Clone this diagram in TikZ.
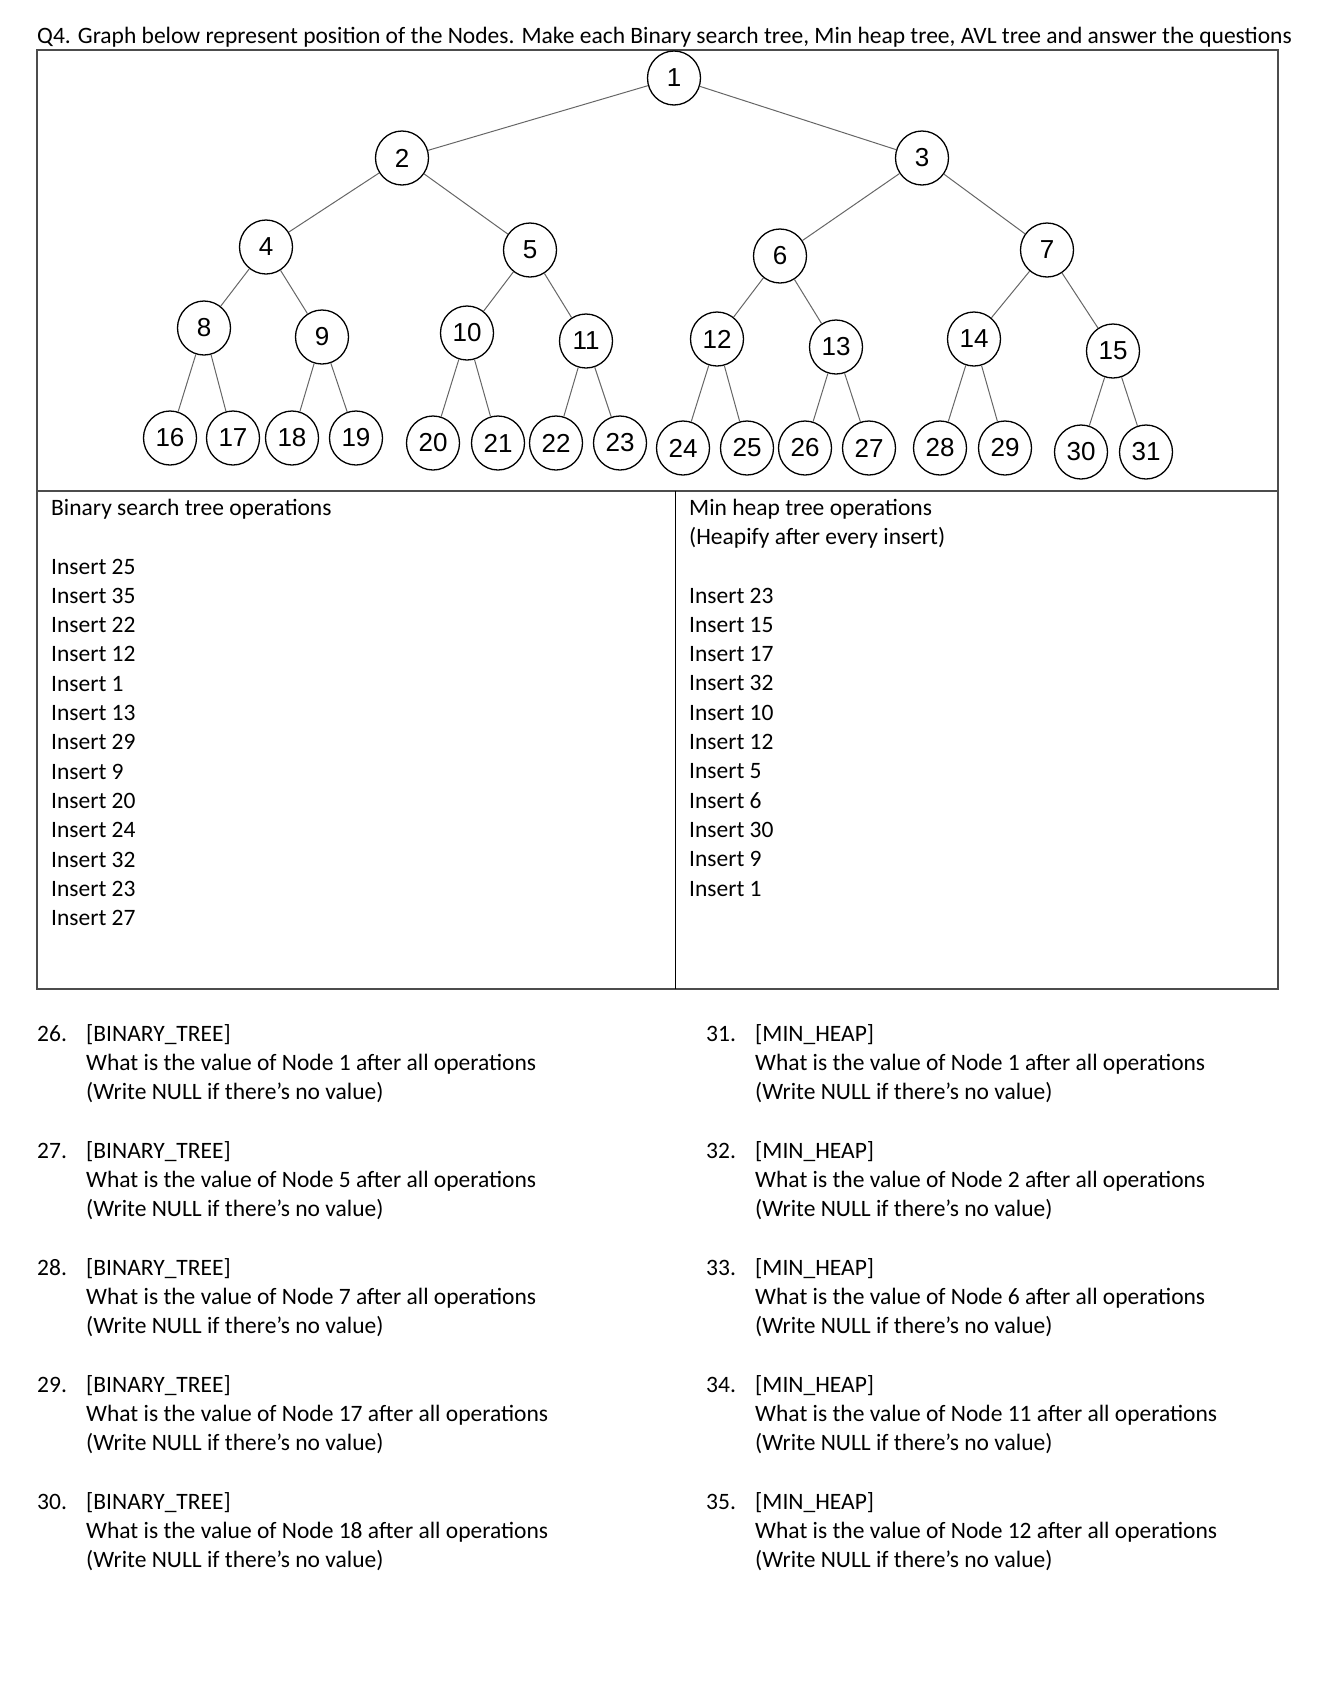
\documentclass[tikz,border=0pt]{standalone}
\usepackage{fontspec}
\setmainfont{Carlito}
\newfontfamily\arialfont{Liberation Sans}
\usetikzlibrary{shapes.geometric}
\newcommand{\txtrows}[1]{\begin{tabular}[t]{@{}l@{}}#1\end{tabular}}

\begin{document}
\begin{tikzpicture}[
    x=1pt, y=-1pt,
    font=\fontsize{23.5}{29.3}\selectfont,
    slot/.style={draw, ellipse, line width=1.3pt, fill=white,
                minimum width=53pt, minimum height=54pt, inner sep=0pt,
                font=\arialfont\fontsize{26}{26}\selectfont},
    link/.style={draw=black!60, line width=1pt},
    txt/.style={anchor=base west, inner sep=0pt},
    frame/.style={draw=black!70, line width=1.6pt}
]
\useasboundingbox (0,0) rectangle (1340,1706);
% --- title and table ---------------------------------------------------
\node[txt] (title) at (37,43) {Q4. Graph below represent position of the Nodes. Make each Binary search tree, Min heap tree, AVL tree and answer the questions};
\draw[frame] (37,50) rectangle (1278,989);
\draw[frame] (37,491) -- (1278,491);
\draw[line width=1pt] (675,491) -- (675,989);
% --- tree positions ----------------------------------------------------
\node[slot] (n1)  at (674,78)  {1};
\node[slot] (n2)  at (402,158) {2};
\node[slot] (n3)  at (922,158) {3};
\node[slot] (n4)  at (266,247) {4};
\node[slot] (n5)  at (530,250) {5};
\node[slot] (n6)  at (780,256) {6};
\node[slot] (n7)  at (1047,250) {7};
\node[slot] (n8)  at (204,328) {8};
\node[slot] (n9)  at (322,337) {9};
\node[slot] (n10) at (467,333) {10};
\node[slot] (n11) at (586,341) {11};
\node[slot] (n12) at (717,339) {12};
\node[slot] (n13) at (836,347) {13};
\node[slot] (n14) at (974,339) {14};
\node[slot] (n15) at (1113,351) {15};
\node[slot] (n16) at (170,438) {16};
\node[slot] (n17) at (233,438) {17};
\node[slot] (n18) at (292,438) {18};
\node[slot] (n19) at (356,438) {19};
\node[slot] (n20) at (433,443) {20};
\node[slot] (n21) at (498,443) {21};
\node[slot] (n22) at (556,443) {22};
\node[slot] (n23) at (620,443) {23};
\node[slot] (n24) at (683,448) {24};
\node[slot] (n25) at (747,448) {25};
\node[slot] (n26) at (805,448) {26};
\node[slot] (n27) at (869,448) {27};
\node[slot] (n28) at (940,448) {28};
\node[slot] (n29) at (1005,448) {29};
\node[slot] (n30) at (1081,452) {30};
\node[slot] (n31) at (1146,452) {31};
% --- links -------------------------------------------------------------
\draw[link] (n1) -- (n2);
\draw[link] (n1) -- (n3);
\draw[link] (n2) -- (n4);
\draw[link] (n2) -- (n5);
\draw[link] (n3) -- (n6);
\draw[link] (n3) -- (n7);
\draw[link] (n4) -- (n8);
\draw[link] (n4) -- (n9);
\draw[link] (n5) -- (n10);
\draw[link] (n5) -- (n11);
\draw[link] (n6) -- (n12);
\draw[link] (n6) -- (n13);
\draw[link] (n7) -- (n14);
\draw[link] (n7) -- (n15);
\draw[link] (n8) -- (n16);
\draw[link] (n8) -- (n17);
\draw[link] (n9) -- (n18);
\draw[link] (n9) -- (n19);
\draw[link] (n10) -- (n20);
\draw[link] (n10) -- (n21);
\draw[link] (n11) -- (n22);
\draw[link] (n11) -- (n23);
\draw[link] (n12) -- (n24);
\draw[link] (n12) -- (n25);
\draw[link] (n13) -- (n26);
\draw[link] (n13) -- (n27);
\draw[link] (n14) -- (n28);
\draw[link] (n14) -- (n29);
\draw[link] (n15) -- (n30);
\draw[link] (n15) -- (n31);
% --- operations --------------------------------------------------------
\node[txt] (bsthd) at (51,515) {Binary search tree operations};
\node[txt] (bstops) at (51,574) {\txtrows{Insert 25\\Insert 35\\Insert 22\\Insert 12\\Insert 1\\Insert 13\\Insert 29\\Insert 9\\Insert 20\\Insert 24\\Insert 32\\Insert 23\\Insert 27}};
\node[txt] (heaphd) at (689,515) {\txtrows{Min heap tree operations\\(Heapify after every insert)}};
\node[txt] (heapops) at (689,603) {\txtrows{Insert 23\\Insert 15\\Insert 17\\Insert 32\\Insert 10\\Insert 12\\Insert 5\\Insert 6\\Insert 30\\Insert 9\\Insert 1}};
% --- questions ---------------------------------------------------------
\node[txt] (q26n) at (37,1041) {26.};
\node[txt] (q26) at (86,1041) {\txtrows{[BINARY\_TREE]\\What is the value of Node 1 after all operations\\(Write NULL if there’s no value)}};
\node[txt] (q27n) at (37,1158) {27.};
\node[txt] (q27) at (86,1158) {\txtrows{[BINARY\_TREE]\\What is the value of Node 5 after all operations\\(Write NULL if there’s no value)}};
\node[txt] (q28n) at (37,1275) {28.};
\node[txt] (q28) at (86,1275) {\txtrows{[BINARY\_TREE]\\What is the value of Node 7 after all operations\\(Write NULL if there’s no value)}};
\node[txt] (q29n) at (37,1392) {29.};
\node[txt] (q29) at (86,1392) {\txtrows{[BINARY\_TREE]\\What is the value of Node 17 after all operations\\(Write NULL if there’s no value)}};
\node[txt] (q30n) at (37,1509) {30.};
\node[txt] (q30) at (86,1509) {\txtrows{[BINARY\_TREE]\\What is the value of Node 18 after all operations\\(Write NULL if there’s no value)}};
\node[txt] (q31n) at (706,1041) {31.};
\node[txt] (q31) at (755,1041) {\txtrows{[MIN\_HEAP]\\What is the value of Node 1 after all operations\\(Write NULL if there’s no value)}};
\node[txt] (q32n) at (706,1158) {32.};
\node[txt] (q32) at (755,1158) {\txtrows{[MIN\_HEAP]\\What is the value of Node 2 after all operations\\(Write NULL if there’s no value)}};
\node[txt] (q33n) at (706,1275) {33.};
\node[txt] (q33) at (755,1275) {\txtrows{[MIN\_HEAP]\\What is the value of Node 6 after all operations\\(Write NULL if there’s no value)}};
\node[txt] (q34n) at (706,1392) {34.};
\node[txt] (q34) at (755,1392) {\txtrows{[MIN\_HEAP]\\What is the value of Node 11 after all operations\\(Write NULL if there’s no value)}};
\node[txt] (q35n) at (706,1509) {35.};
\node[txt] (q35) at (755,1509) {\txtrows{[MIN\_HEAP]\\What is the value of Node 12 after all operations\\(Write NULL if there’s no value)}};
\end{tikzpicture}
\end{document}
